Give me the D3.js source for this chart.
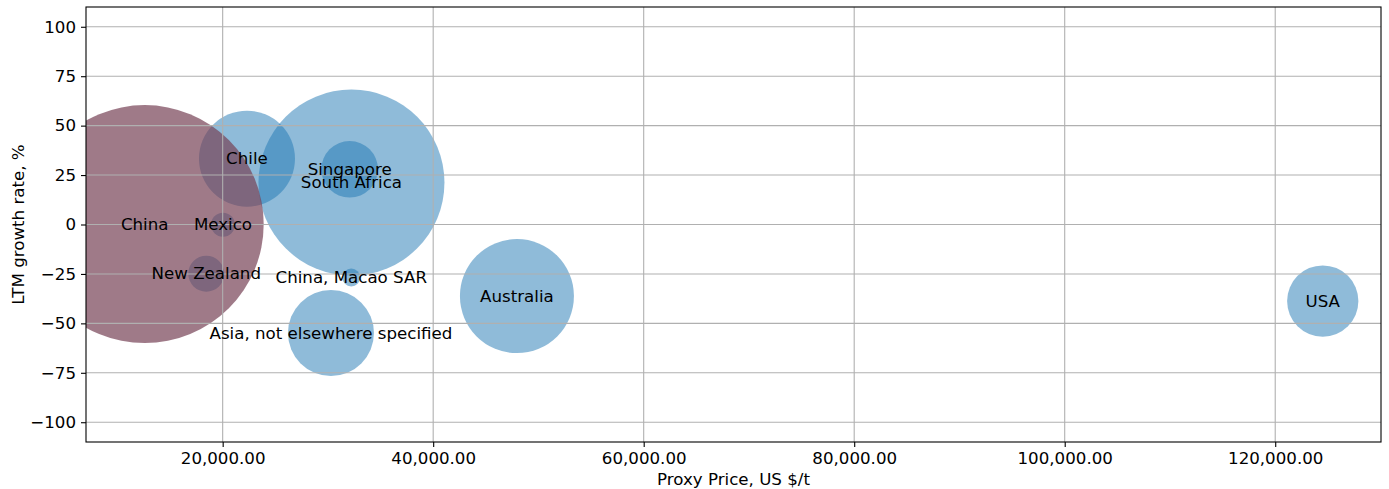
<!DOCTYPE html>
<html>
<head>
<meta charset="utf-8">
<script src="https://cdn.jsdelivr.net/npm/d3@7"></script>
<style>
  html, body { margin: 0; padding: 0; background: #fff; }
  text { font-family: "DejaVu Sans", sans-serif; }
</style>
</head>
<body>
<svg id="chart" width="1389" height="489"></svg>
<script>
// ---- data ----
const countries = ["South Africa", "Singapore", "Chile", "Asia, not elsewhere specified", "Australia", "USA", "New Zealand", "Mexico", "China, Macao SAR", "China"];
const proxyPrice = [32235, 32064, 22309, 30288, 47956, 124516, 18442, 20029, 32216, 12591];
const growthRate = [21.2, 27.9, 33.3, -54.9, -36.2, -38.7, -24.9, -0.1, -26.8, 0.2];
const bubbleSize = [8649, 800, 2304, 1849, 3249, 1270, 324, 144, 80, 14161];
const highlight = ["China"];
const xTicks = [20000, 40000, 60000, 80000, 100000, 120000];
const yTicks = [-100, -75, -50, -25, 0, 25, 50, 75, 100];
const xLabel = "Proxy Price, US $/t";
const yLabel = "LTM growth rate, %";

// ---- layout ----
const FS = "16.67px";
const svg = d3.select("#chart");
const margin = { left: 86, right: 1389 - 1381, top: 7, bottom: 489 - 442 };
const W = 1389, H = 489;
const pw = W - margin.left - margin.right, ph = H - margin.top - margin.bottom;

const x = d3.scaleLinear().domain([7015, 130050]).range([0, pw]);
const y = d3.scaleLinear().domain([-110, 110]).range([ph, 0]);
const r = d3.scaleSqrt().domain([0, d3.max(bubbleSize)]).range([0, 119]);

const g = svg.append("g").attr("transform", `translate(${margin.left},${margin.top})`);

svg.append("defs").append("clipPath").attr("id", "clip")
  .append("rect").attr("width", pw).attr("height", ph);

const data = countries.map((c, i) => ({ c, x: proxyPrice[i], y: growthRate[i], s: bubbleSize[i] }));

// bubbles
const bub = g.append("g").attr("clip-path", "url(#clip)");
bub.selectAll("circle").data(data).enter().append("circle")
  .attr("cx", d => x(d.x)).attr("cy", d => y(d.y)).attr("r", d => r(d.s))
  .attr("fill", d => highlight.includes(d.c) ? "#764156" : "#1f77b4")
  .attr("fill-opacity", d => highlight.includes(d.c) ? 0.7 : 0.5);

// grid on top
const grid = g.append("g");
grid.selectAll("line.gx").data(xTicks).enter().append("line")
  .attr("x1", d => x(d)).attr("x2", d => x(d)).attr("y1", 0).attr("y2", ph)
  .attr("stroke", "#b0b0b0").attr("stroke-width", 1.1);
grid.selectAll("line.gy").data(yTicks).enter().append("line")
  .attr("y1", d => y(d)).attr("y2", d => y(d)).attr("x1", 0).attr("x2", pw)
  .attr("stroke", "#b0b0b0").attr("stroke-width", 1.1);

// labels
g.append("g").selectAll("text").data(data).enter().append("text")
  .attr("x", d => x(d.x)).attr("y", d => y(d.y))
  .attr("text-anchor", "middle").attr("dominant-baseline", "central")
  .attr("font-size", FS).attr("fill", "#000")
  .text(d => d.c);

// axes
const fmt = d3.format(",.2f");
const xAxis = g.append("g").attr("transform", `translate(0,${ph})`)
  .call(d3.axisBottom(x).tickValues(xTicks).tickFormat(fmt).tickSize(5).tickPadding(5));
const yAxis = g.append("g")
  .call(d3.axisLeft(y).tickValues(yTicks).tickFormat(d => d < 0 ? "\u2212" + Math.abs(d) : d).tickSize(5).tickPadding(5));
[xAxis, yAxis].forEach(a => {
  a.select(".domain").remove();
  a.selectAll("text").attr("font-size", FS).attr("font-family", "DejaVu Sans").attr("fill", "#000");
  a.selectAll("line").attr("stroke", "#000").attr("stroke-width", 1.1);
});

// frame
g.append("rect").attr("width", pw).attr("height", ph)
  .attr("fill", "none").attr("stroke", "#000").attr("stroke-width", 1.1);

// axis titles
svg.append("text").attr("x", margin.left + pw / 2).attr("y", 485)
  .attr("text-anchor", "middle").attr("font-size", FS).text(xLabel);
svg.append("text").attr("transform", `translate(24,${margin.top + ph / 2}) rotate(-90)`)
  .attr("text-anchor", "middle").attr("font-size", FS).text(yLabel);
</script>
</body>
</html>
